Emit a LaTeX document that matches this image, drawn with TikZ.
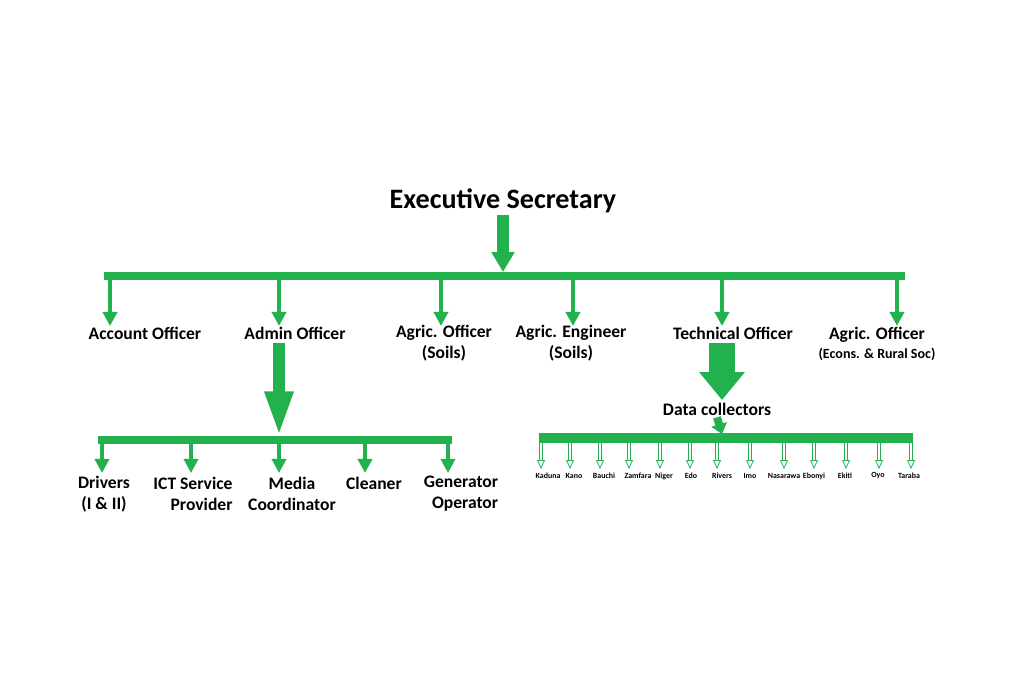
\documentclass[tikz,border=0pt]{standalone}
\usepackage{fontspec}
\setmainfont{Carlito}
\usetikzlibrary{arrows.meta}
\definecolor{orggreen}{RGB}{34,177,76}
\tikzset{
  bus/.style={orggreen,line width=4.5pt},
  drop/.style={orggreen,line width=2.8pt,-{Triangle[width=8pt,length=8pt]}},
  state/.style={orggreen,line width=0.45pt,double=white,double distance=1.1pt,-{Triangle[open,width=4.5pt,length=5.1pt,fill=white]}},
  post/.style={font=\bfseries\fontsize{10}{12}\selectfont,align=center,inner sep=1pt},
  city/.style={font=\bfseries\fontsize{4.5}{5}\selectfont,inner sep=1pt}
}
\begin{document}
\begin{tikzpicture}[x=0.02cm,y=-0.02cm]
\useasboundingbox (0,0) rectangle (1024,682);
\node (exec)[font=\bfseries\fontsize{16}{18}\selectfont] at (503,201) {Executive Secretary};
\node (acc)[post] at (145,333) {Account Officer};
\node (adm)[post] at (295,333) {Admin Officer};
\node (aos)[post] at (444,343) {Agric. Officer\\(Soils)};
\node (aes)[post] at (571,343) {Agric. Engineer\\(Soils)};
\node (tec)[post] at (733,333) {Technical Officer};
\node (aoe)[post,anchor=north] at (877,325) {Agric. Officer\\[-1pt]{\fontsize{8}{9}\selectfont(Econs. \& Rural Soc)}};
\node (dat)[post] at (717,409) {Data collectors};
\node (drv)[post] at (104,494) {Drivers\\(I \& II)};
\node (ict)[post,align=right] at (193,494) {ICT Service\\Provider};
\node (med)[post] at (292,494) {Media\\Coordinator};
\node (cln)[post,anchor=north] at (374,475) {Cleaner};
\node (gen)[post,align=right] at (461,494) {Generator\\Operator};
% top bus
\coordinate (tl) at (104,276);
\coordinate (tr) at (905,276);
\draw[bus] (tl) -- (tr);
\draw[orggreen,line width=6.8pt,-{Triangle[width=12.5pt,length=11.3pt]}] (exec.south) ++(0,-4) -- (503,272);
\foreach \x in {110,279,441,573,722,897}
  \draw[drop] (\x,276) -- (\x,326);
% admin branch
\coordinate (ll) at (98,440);
\coordinate (lr) at (452,440);
\draw[bus] (ll) -- (lr);
\draw[orggreen,line width=6.8pt,-{Triangle[width=14.7pt,length=26pt]}] (279,343) -- (279,437);
\foreach \x in {102,191,279,365,448}
  \draw[drop] (\x,440) -- (\x,473);
% technical branch
\draw[orggreen,line width=14.7pt,-{Triangle[width=25pt,length=15.9pt]}] (722,343) -- (722,400);
\draw[orggreen,line width=4.5pt,-{Triangle[width=9pt,length=5.7pt]}] (dat.south) -- (722,434);
\coordinate (sl) at (539,438);
\coordinate (sr) at (913,438);
\draw[orggreen,line width=5.7pt] (sl) -- (sr);
\foreach \x/\lx/\s in {541/548/Kaduna,570/574/Kano,600/604/Bauchi,629/638/Zamfara,660/664/Niger,690/691/Edo,717/722/Rivers,750/750/Imo,784/784/Nasarawa,814/814/Ebonyi,846/845/Ekiti,879/878/Oyo,911/909/Taraba}{
  \node (\s)[city] at (\lx,476) {\s};
  \draw[state] (\x,443) -- (\x,469);
}
\end{tikzpicture}
\end{document}
